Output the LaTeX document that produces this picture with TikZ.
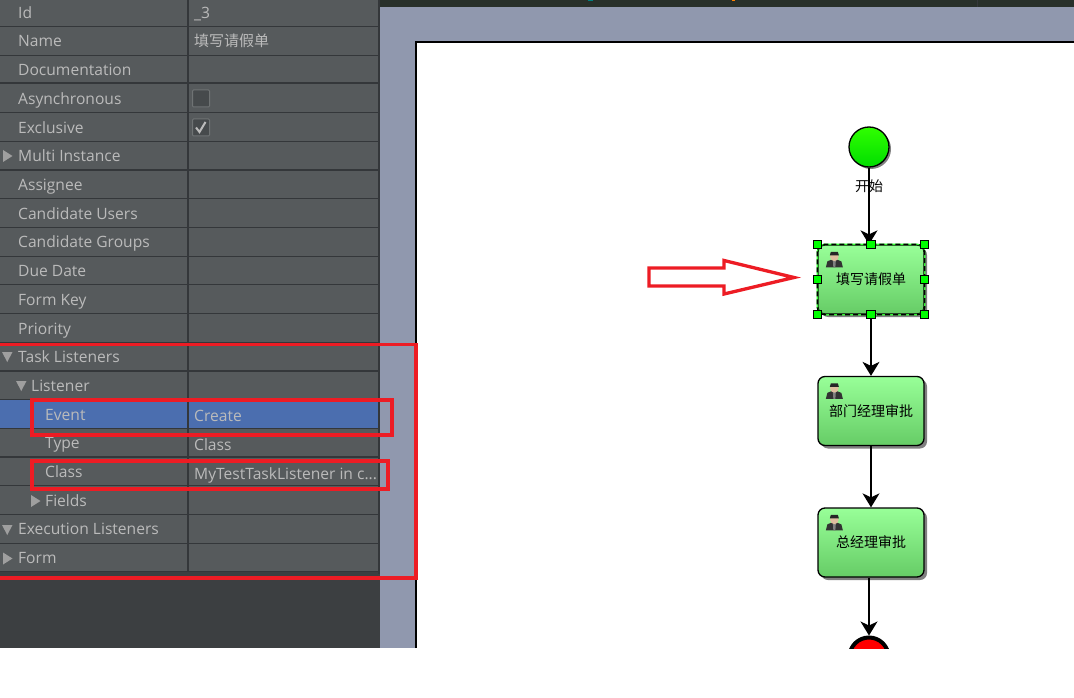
\documentclass[tikz,border=0pt]{standalone}
\usepackage{fontspec}
\setmainfont{Open Sans}
\newfontfamily\cjk{Noto Sans CJK SC}
\usepackage{tikz}
\usetikzlibrary{arrows.meta}
\usetikzlibrary{shadows}
\usetikzlibrary{calc}
\usetikzlibrary{positioning}
\definecolor{panelbg}{HTML}{565A5C}
\definecolor{panelline}{HTML}{34373A}
\definecolor{paneldark}{HTML}{3C3F41}
\definecolor{paneltext}{HTML}{BBBBBB}
\definecolor{selblue}{HTML}{4B6EAF}
\definecolor{canvasbg}{HTML}{9098AE}
\definecolor{topbar}{HTML}{28302A}
\definecolor{markred}{HTML}{ED1C24}
\definecolor{tasktop}{HTML}{98FF98}
\definecolor{taskbottom}{HTML}{66CC66}
\tikzset{
  rowlabel/.style={anchor=base west,inner sep=0pt,text=paneltext,font=\fontsize{15.6}{18}\selectfont},
  rowvalue/.style={anchor=base west,inner sep=0pt,text=paneltext,font=\fontsize{15.6}{18}\selectfont},
  checkbox/.style={draw=panelbg!85!white,line width=1pt,fill=paneldark!60!panelbg,rounded corners=1pt,
    minimum size=17pt,inner sep=0pt},
  usertask/.style={draw=black,line width=1.3pt,rounded corners=7pt,minimum width=106pt,minimum height=69pt,
    inner sep=0pt,top color=tasktop,bottom color=taskbottom,
    drop shadow={shadow xshift=3pt,shadow yshift=-3pt,fill=gray,opacity=1},
    font=\cjk\fontsize{14}{16}\selectfont},
  startevent/.style={circle,draw=black,line width=1.3pt,minimum size=40pt,inner sep=0pt,
    top color={rgb,255:red,48;green,255;blue,0},bottom color={rgb,255:red,0;green,221;blue,0},
    drop shadow={shadow xshift=2pt,shadow yshift=-2pt,fill=gray,opacity=1}},
  endevent/.style={circle,draw=black,line width=4pt,fill=red,minimum size=39pt,inner sep=0pt},
  handle/.style={draw=black,line width=1pt,fill=green,minimum size=8.5pt,inner sep=0pt},
  flow/.style={draw=black,line width=1.3pt,-{Stealth[length=14pt,width=17pt,inset=4pt]}},
  markbox/.style={draw=markred,line width=3.3pt},
  pics/person/.style={code={
    \fill[black!80] (-8.5,9) -- (-7,3) -- (-2,1) -- (2,1) -- (7,3) -- (8.5,9) -- cycle;
    \fill[gray] (-1.5,2) -- (1.5,2) -- (1,9) -- (-1,9) -- cycle;
    \fill[brown!50!white] (0,-1.5) circle (4.3pt);
    \fill[black!85] (-4.5,-3) -- (-3.5,-6.5) -- (3.5,-6.5) -- (4.5,-3) -- cycle;
  }},
}
\begin{document}
\begin{tikzpicture}[x=1pt,y=-1pt]
  \useasboundingbox (0, 0) rectangle (1074, 698);
  \fill[white] (0, 0) rectangle (1074, 698);

  % canvas on the right
  \fill[canvasbg] (380, 0) rectangle (1074, 648);
  \fill[topbar]   (380, 0) rectangle (1074, 7);
  \fill[teal]     (588, 0) rectangle +(5, 1.5);
  \fill[orange]   (732, 0) rectangle +(3, 1.5);
  \draw[panelline,line width=1pt] (977, 0) -- (977, 7);
  \fill[white] (416, 42) rectangle (1074, 648);
  \draw[black,line width=1.5pt] (416, 648) -- (416, 42) -- (1074, 42);

  % property panel
  \fill[paneldark] (0, 0) rectangle (380, 648);
  \fill[panelbg]   (0, 0) rectangle (378, 572);
  \fill[selblue]   (0, 400) rectangle (378, 428.5);
  \foreach \i in {0, 1, ..., 19} {
    \draw[panelline,line width=1.2pt] (0, 26.5+28.7*\i) -- +(378, 0);
  }
  \draw[panelline,line width=2pt] (0, 83.5) -- +(378, 0);
  \draw[panelline,line width=1.6pt] (188, 0) -- (188, 572);
  \draw[panelline,line width=2pt] (378.5, 0) -- (378.5, 574);

  \foreach \i/\ind/\lab in {0/18/Id, 1/18/Name, 2/18/Documentation, 3/18/Asynchronous, 4/18/Exclusive,
      5/18/Multi Instance, 6/18/Assignee, 7/18/Candidate Users, 8/18/Candidate Groups, 9/18/Due Date,
      10/18/Form Key, 11/18/Priority, 12/18/Task Listeners, 13/31/Listener, 14/45/Event, 15/45/Type,
      16/45/Class, 17/45/Fields, 18/18/Execution Listeners, 19/18/Form} {
    \node[rowlabel] (row\i) at (\ind, 18.3+28.7*\i) {\lab};
  }

  \node[rowvalue] (valid)    at (194, 19) {\_3};
  \node[rowvalue,font=\cjk\fontsize{15}{18}\selectfont] (valname) at (194, 47) {填写请假单};
  \node[rowvalue] (valevent) at (194, 421) {Create};
  \node[rowvalue] (valtype)  at (194, 450) {Class};
  \node[rowvalue] (valclass) at (194, 479) {MyTestTaskListener in c...};

  \node[checkbox] (async) at (201, 98.5) {};
  \node[checkbox] (excl)  at (201, 127.5) {};
  \draw[paneltext,line width=2pt] (196, 127.5) -- (199.5, 132) -- (205.5, 122);

  % tree arrows
  \foreach \x/\y in {3/156, 3/558.5, 31/501} {
    \fill[paneltext!85!black] (\x, \y-6) -- +(9.5, 6) -- +(0, 12) -- cycle;
  }
  \foreach \x/\y in {2/357, 16/386, 2/530} {
    \fill[paneltext!85!black] (\x, \y-5) -- +(10.5, 0) -- +(5.25, 10) -- cycle;
  }

  % the process
  \begin{scope}
    \clip (416, 42) rectangle (1074, 648);
    \node[endevent] (end) at (869, 657) {};
  \end{scope}
  \node[startevent] (start) at (869, 147) {};
  \node[usertask] (fillform) at (871, 279.5) {填写请假单};
  \node[usertask] (deptcheck) at (871, 411) {部门经理审批};
  \node[usertask] (bosscheck) at (871, 542.5) {总经理审批};
  \draw[green!70!tasktop,line width=1.3pt,rounded corners=7pt] (fillform.north west) rectangle (fillform.south east);
  \draw[black,dash pattern=on 5pt off 3pt,line width=1.3pt,rounded corners=7pt] (fillform.north west) rectangle (fillform.south east);
  \node[font=\cjk\fontsize{14}{16}\selectfont,below=12pt of start,inner sep=0pt] (startlabel) {开始};

  \foreach \t in {fillform, deptcheck, bosscheck} {
    \pic at ($(\t.north west)+(17,14)$) {person};
  }

  \draw[flow] (start) -- (start |- fillform.north);
  \draw[flow] (fillform) -- (deptcheck);
  \draw[flow] (deptcheck) -- (bosscheck);
  \draw[flow] (end |- bosscheck.south) -- (end.north);

  \foreach \a [count=\i] in {north west, north, north east, west, east, south west, south, south east} {
    \node[handle] (handle\i) at (fillform.\a) {};
  }

  % red marks
  \draw[markbox] (649, 268) -- (724, 268) -- (724, 260.5) -- (794, 277.5) -- (724, 294)
    -- (724, 286) -- (649, 286) -- cycle;
  \draw[markbox] (0, 344.5) -- (416, 344.5) -- (416, 578) -- (0, 578);
  \draw[markbox] (32, 400) rectangle (392, 435);
  \draw[markbox] (32, 461) rectangle (388, 489);
\end{tikzpicture}
\end{document}
